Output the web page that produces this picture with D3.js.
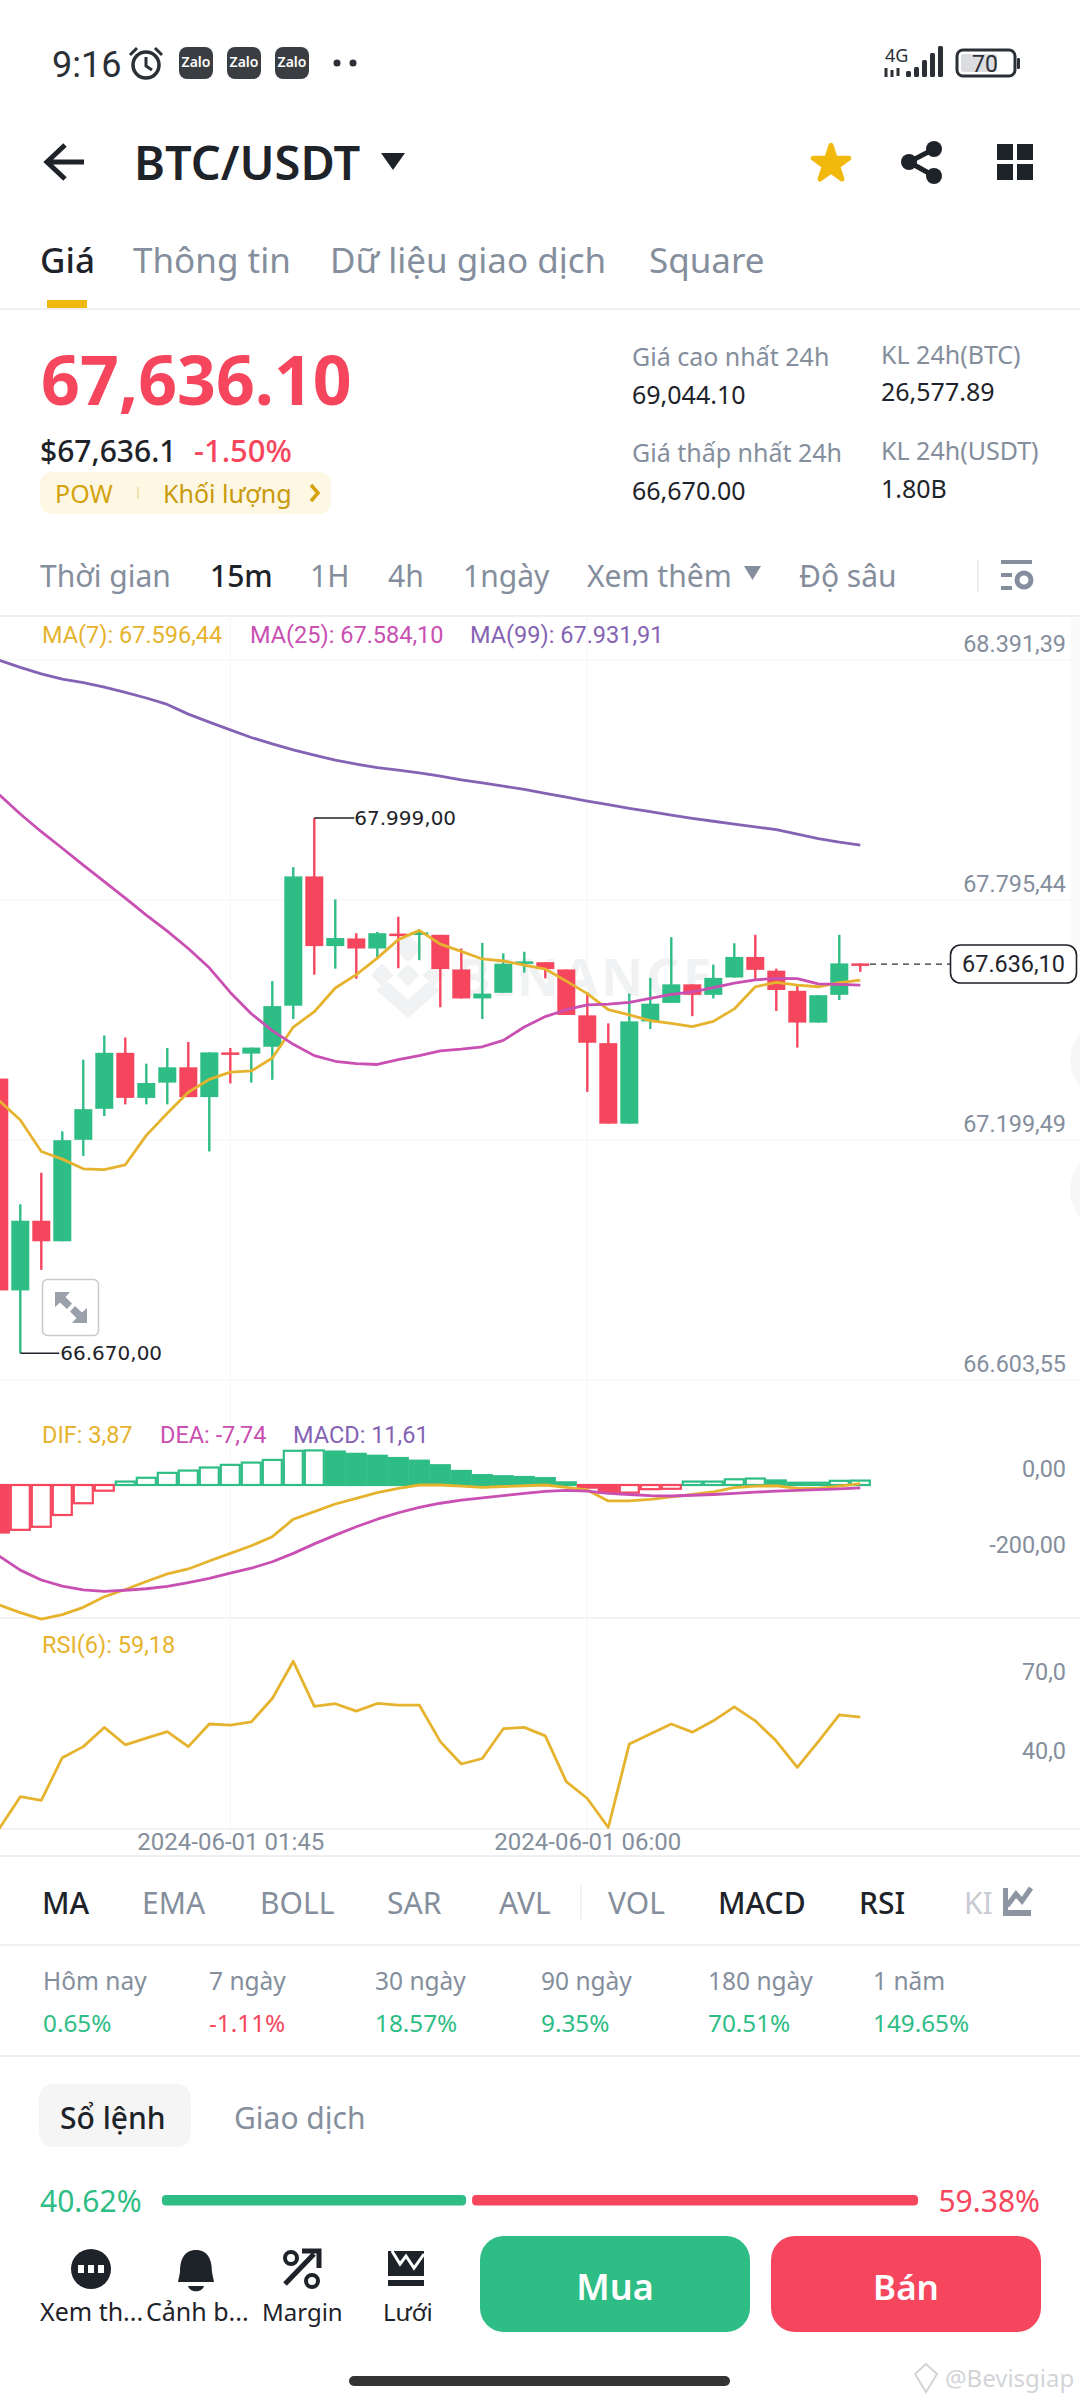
<!DOCTYPE html>
<html>
<head>
  <script src="https://d3js.org/d3.v7.min.js"></script>
  <meta charset="utf-8">
  <title>BTC/USDT</title>
<style>
html, body {
  margin: 0;
  background: #fff;
}
svg {
  display: block;
  background: #fff;
}
</style>
</head>
<body>
<script>
// candles, oldest first
var opens = [67352, 66826, 66999, 66948, 67200, 67277, 67416, 67304, 67342, 67380, 67306, 67417, 67414, 67431, 67533, 67854, 67681, 67700, 67675, 67712, 67709, 67709, 67623, 67551, 67565, 67637, 67641, 67623, 67509, 67440, 67240, 67494, 67540, 67586, 67560, 67603, 67654, 67620, 67570, 67491, 67560, 67638];
var closes = [66826, 66999, 66948, 67199, 67276, 67416, 67304, 67341, 67380, 67306, 67417, 67412, 67429, 67532, 67854, 67681, 67701, 67675, 67713, 67707, 67715, 67624, 67551, 67563, 67637, 67643, 67624, 67510, 67441, 67240, 67494, 67538, 67586, 67560, 67602, 67654, 67622, 67572, 67491, 67559, 67638, 67636.1];
var highs = [67352, 67040, 67118, 67221, 67399, 67459, 67454, 67389, 67428, 67443, 67417, 67428, 67429, 67594, 67877, 67999, 67797, 67713, 67716, 67754, 67720, 67709, 67675, 67689, 67663, 67667, 67641, 67623, 67566, 67489, 67563, 67602, 67703, 67586, 67635, 67688, 67709, 67625, 67584, 67559, 67709, 67638];
var lows = [66826, 66670, 66877, 66948, 67160, 67259, 67288, 67288, 67288, 67306, 67171, 67340, 67342, 67349, 67500, 67610, 67625, 67600, 67649, 67626, 67646, 67529, 67551, 67500, 67565, 67615, 67601, 67510, 67319, 67240, 67240, 67475, 67540, 67507, 67551, 67603, 67597, 67520, 67429, 67491, 67547, 67617];

var ma7 = [67297, 67249, 67171, 67152, 67128, 67126, 67138, 67211, 67266, 67318, 67350, 67368, 67371, 67403, 67480, 67518, 67577, 67610, 67651, 67697, 67720, 67686, 67668, 67649, 67644, 67634, 67624, 67594, 67563, 67523, 67510, 67496, 67489, 67481, 67494, 67525, 67580, 67591, 67584, 67580, 67590, 67596.44];
var ma25 = [68057, 68009, 67965, 67924, 67882, 67841, 67800, 67758, 67718, 67675, 67627, 67566, 67513, 67471, 67437, 67409, 67395, 67389, 67387, 67399, 67409, 67421, 67425, 67431, 67447, 67480, 67506, 67523, 67535, 67537, 67541, 67551, 67561, 67567, 67578, 67589, 67597, 67601, 67600, 67587, 67586, 67584.1];
var ma99 = [68391, 68373, 68357, 68344, 68335, 68324, 68311, 68297, 68281, 68257, 68237, 68218, 68199, 68183, 68168, 68155, 68143, 68133, 68124, 68118, 68111, 68103, 68094, 68086, 68078, 68070, 68060, 68051, 68041, 68032, 68023, 68015, 68006, 67998, 67991, 67984, 67977, 67970, 67959, 67948, 67939, 67931.91];

var hist = [-125, -118, -110, -79, -48, -15, 9, 19, 32, 38, 46, 53, 59, 66, 90, 91, 88, 82, 77, 71, 64, 52, 37, 26, 23, 21, 18, 7, -7, -20, -20, -11, -10, 9, 9, 15, 17, 12, 6, 6, 11, 11.61];
var dif = [-316, -336, -353, -341, -322, -294, -275, -254, -234, -221, -200, -180, -160, -136, -90, -70, -50, -35, -20, -9, 0, 0, -3, -6, -4, -2, 0, -6, -13, -42, -42, -38, -31, -25, -18, -7, -3, -2, -9, -9, -3, 3.87];
var dea = [-187, -224, -250, -266, -276, -280, -277, -273, -267, -257, -246, -232, -219, -202, -180, -155, -132, -110, -90, -73, -59, -48, -40, -34, -28, -22, -17, -14, -16, -22, -25, -28, -29, -27, -25, -22, -19, -16, -14, -12, -10, -7.74];
var rsi = [16.9, 29.0, 27.6, 43.8, 48.0, 55.3, 48.7, 51.2, 53.7, 48.0, 56.6, 56.2, 57.4, 66.3, 80.4, 63.3, 64.3, 61.5, 64.4, 63.8, 63.8, 49.9, 41.4, 43.5, 54.8, 55.3, 52.1, 34.7, 28.3, 17.3, 49.0, 52.8, 56.6, 53.5, 57.8, 63.1, 57.8, 50.1, 40.1, 49.9, 60.1, 59.18];

var priceTicks = [68391.39, 67795.44, 67199.49, 66603.55];
var priceTickLabels = ['68.391,39', '67.795,44', '67.199,49', '66.603,55'];
var macdTicks = [0, -200];
var macdTickLabels = ['0,00', '-200,00'];
var rsiTicks = [70, 40];
var rsiTickLabels = ['70,0', '40,0'];
var timeTicks = [11, 28];
var timeTickLabels = ['2024-06-01 01:45', '2024-06-01 06:00'];

var periodLabels = ['Hôm nay', '7 ngày', '30 ngày', '90 ngày', '180 ngày', '1 năm'];
var periodValues = [0.65, -1.11, 18.57, 9.35, 70.51, 149.65];
var buyShare = 40.62;
var sellShare = 59.38;

var green = '#2ebd85', red = '#f6465d', dark = '#1e2329', grey = '#848e9c', line = '#eeeff1';
var yellow = '#e6b32e', pink = '#c94fb2', purple = '#8563b4';
var uiFont = '"Noto Sans", sans-serif';
var chartFont = 'Roboto, sans-serif';

var width = 1080, height = 2400;
var svg = d3.select('body').append('svg')
  .attr('width', width)
  .attr('height', height);

function label(x, y, str, size, fill, opts) {
  opts = opts || {};
  return svg.append('text')
    .attr('x', x).attr('y', y)
    .attr('font-family', opts.font || uiFont)
    .attr('font-size', size)
    .attr('font-weight', opts.weight || 400)
    .attr('text-anchor', opts.anchor || 'start')
    .attr('fill', fill)
    .text(str);
}

function hr(y, c) {
  svg.append('line').attr('x1', 0).attr('x2', width).attr('y1', y).attr('y2', y)
    .attr('stroke', c || line).attr('stroke-width', 2);
}

// ---- status bar
label(52, 77, '9:16', 36, '#2b2f36', {font: chartFont});
svg.append('circle').attr('cx', 146).attr('cy', 65).attr('r', 13)
  .attr('fill', 'none').attr('stroke', '#2b2f36').attr('stroke-width', 3.5);
svg.append('path').attr('d', 'M146 57v9l6 4M130 55l7-7M162 55l-7-7')
  .attr('fill', 'none').attr('stroke', '#2b2f36').attr('stroke-width', 3);
[196, 244, 292].forEach(function (x) {
  svg.append('rect').attr('x', x - 17).attr('y', 47).attr('width', 34).attr('height', 32)
    .attr('rx', 8).attr('fill', '#3a3d42');
  label(x, 67, 'Zalo', 14, '#fff', {anchor: 'middle', weight: 600});
});
[337, 353].forEach(function (x) {
  svg.append('circle').attr('cx', x).attr('cy', 63).attr('r', 3.5).attr('fill', '#2b2f36');
});
label(885, 62, '4G', 18, '#2b2f36');
svg.selectAll('.sig').data([6, 10, 17, 24, 31]).enter().append('rect')
  .attr('class', 'sig')
  .attr('x', function (d, i) { return 906 + i * 8; })
  .attr('y', function (d) { return 77 - d; })
  .attr('width', 5).attr('height', function (d) { return d; })
  .attr('rx', 1.5).attr('fill', '#2b2f36');
svg.append('path').attr('d', 'M886 77v-9M892 70v7M898 68v8').attr('stroke', '#2b2f36').attr('stroke-width', 3);
svg.append('rect').attr('x', 957).attr('y', 50).attr('width', 58).attr('height', 26).attr('rx', 6)
  .attr('fill', 'none').attr('stroke', '#2b2f36').attr('stroke-width', 3);
svg.append('rect').attr('x', 961).attr('y', 54).attr('width', 36).attr('height', 18).attr('rx', 3).attr('fill', '#dcdde0');
svg.append('rect').attr('x', 1017).attr('y', 58).attr('width', 3).attr('height', 11).attr('rx', 1).attr('fill', '#2b2f36');
label(985, 72, '70', 23, '#2b2f36', {anchor: 'middle', font: chartFont});

// ---- header
svg.append('path').attr('d', 'M84 162H48M65 145L47 162L65 179')
  .attr('fill', 'none').attr('stroke', dark).attr('stroke-width', 5);
label(134, 180, 'BTC/USDT', 47, dark, {weight: 600});
svg.append('path').attr('d', 'M381 153H405L393 170Z').attr('fill', dark);
svg.append('path')
  .attr('transform', 'translate(831,164)')
  .attr('d', d3.symbol(d3.symbolStar).size(390)())
  .attr('fill', '#f0b90b').attr('stroke', '#f0b90b').attr('stroke-width', 5).attr('stroke-linejoin', 'round');
svg.append('path').attr('d', 'M934 149L909 162L934 176').attr('fill', 'none').attr('stroke', dark).attr('stroke-width', 5);
[[934, 149], [909, 162], [934, 176]].forEach(function (p) {
  svg.append('circle').attr('cx', p[0]).attr('cy', p[1]).attr('r', 8).attr('fill', dark);
});
[[997, 144], [1017, 144], [997, 164], [1017, 164]].forEach(function (p) {
  svg.append('rect').attr('x', p[0]).attr('y', p[1]).attr('width', 16).attr('height', 16).attr('fill', dark);
});

// ---- page tabs
var tabLabels = ['Giá', 'Thông tin', 'Dữ liệu giao dịch', 'Square'];
var tabX = [40, 133, 330, 649];
tabLabels.forEach(function (t, i) {
  label(tabX[i], 273, t, 35, i === 0 ? dark : grey, {weight: i === 0 ? 500 : 400});
});
svg.append('rect').attr('x', 47).attr('y', 300).attr('width', 40).attr('height', 8).attr('fill', '#f0b90b');
hr(309);

// ---- price block
label(41, 405, '67,636.10', 68, red, {weight: 700});
label(40, 462, '$67,636.1', 30, dark, {weight: 500});
label(194, 462, '-1.50%', 31, red, {weight: 500});
svg.append('rect').attr('x', 40).attr('y', 472).attr('width', 291).attr('height', 42).attr('rx', 12).attr('fill', '#fdf7e3');
label(55, 503, 'POW', 25, '#d3a20c');
svg.append('rect').attr('x', 137).attr('y', 487).attr('width', 2).attr('height', 12).attr('fill', '#f2e2ae');
label(163, 503, 'Khối lượng', 25, '#c99a0c');
svg.append('path').attr('d', 'M311 485L318 493L311 501').attr('fill', 'none').attr('stroke', '#d3a20c').attr('stroke-width', 3.5);

label(632, 366, 'Giá cao nhất 24h', 25, grey);
label(632, 404, '69,044.10', 25, dark);
label(632, 462, 'Giá thấp nhất 24h', 25, grey);
label(632, 500, '66,670.00', 25, dark);
label(881, 364, 'KL 24h(BTC)', 25, grey);
label(881, 401, '26,577.89', 25, dark);
label(881, 460, 'KL 24h(USDT)', 25, grey);
label(881, 498, '1.80B', 25, dark);

// ---- interval row
var intervalLabels = ['Thời gian', '15m', '1H', '4h', '1ngày', 'Xem thêm', 'Độ sâu'];
var intervalX = [40, 210, 310, 388, 463, 587, 799];
intervalLabels.forEach(function (t, i) {
  label(intervalX[i], 587, t, 30, i === 1 ? dark : grey, {weight: i === 1 ? 500 : 400});
});
svg.append('path').attr('d', 'M744 566H761L752.5 580Z').attr('fill', grey);
svg.append('rect').attr('x', 977).attr('y', 560).attr('width', 2).attr('height', 32).attr('fill', line);
svg.append('path').attr('d', 'M1001 562H1032M1001 575H1012M1001 588H1012').attr('stroke', grey).attr('stroke-width', 4);
svg.append('circle').attr('cx', 1024).attr('cy', 580).attr('r', 7).attr('fill', 'none').attr('stroke', grey).attr('stroke-width', 5);
hr(616);

// ---- scales
var x = d3.scaleLinear().domain([0, opens.length - 1]).range([-0.7, 860.3]);
var yPrice = d3.scaleLinear().domain([66603.55, 68391.39]).range([1380, 660]);
var yMacd = d3.scaleLinear().domain([-200, 0]).range([1561, 1485]);
var yRsi = d3.scaleLinear().domain([40, 70]).range([1767.7, 1688.7]);

// grid
svg.selectAll('.hgrid').data(priceTicks).enter().append('line')
  .attr('class', 'hgrid')
  .attr('x1', 0).attr('x2', width)
  .attr('y1', yPrice).attr('y2', yPrice)
  .attr('stroke', '#f7f7f8').attr('stroke-width', 1.5);
svg.selectAll('.vgrid').data(timeTicks).enter().append('line')
  .attr('class', 'vgrid')
  .attr('x1', x).attr('x2', x)
  .attr('y1', 616).attr('y2', 1856)
  .attr('stroke', '#f8f8f9').attr('stroke-width', 1.5);
hr(1618, '#f3f3f4');
hr(1829, '#f3f3f4');
hr(1856);

// edge bubbles of the app, faint
svg.append('rect').attr('x', 1071).attr('y', 618).attr('width', 9).attr('height', 330).attr('fill', '#fafafa');
svg.append('circle').attr('cx', 1112).attr('cy', 1060).attr('r', 42).attr('fill', '#f7f7f8');
svg.append('circle').attr('cx', 1112).attr('cy', 1190).attr('r', 42).attr('fill', '#f7f7f8');

// watermark
var wm = svg.append('g').attr('fill', '#f1f2f3');
[[408, 948, 10], [382, 975, 8], [408, 975, 8], [434, 975, 8]].forEach(function (p) {
  wm.append('rect').attr('x', p[0] - p[2]).attr('y', p[1] - p[2]).attr('width', p[2] * 2).attr('height', p[2] * 2)
    .attr('transform', 'rotate(45 ' + p[0] + ' ' + p[1] + ')');
});
wm.append('path').attr('d', 'M376 990L408 1018L440 990L428 982L408 1000L388 982Z');
wm.append('text').attr('x', 456).attr('y', 996).attr('font-family', uiFont).attr('font-weight', 700)
  .attr('font-size', 52).attr('letter-spacing', 3).text('BINANCE');

// ---- candles
var idx = d3.range(opens.length);
var col = function (i) { return closes[i] >= opens[i] ? green : red; };

svg.selectAll('.wick').data(idx).enter().append('line')
  .attr('class', 'wick')
  .attr('x1', x).attr('x2', x)
  .attr('y1', function (i) { return yPrice(highs[i]); })
  .attr('y2', function (i) { return yPrice(lows[i]); })
  .attr('stroke', col).attr('stroke-width', 2.4);

svg.selectAll('.body').data(idx).enter().append('rect')
  .attr('class', 'body')
  .attr('x', function (i) { return x(i) - 9; })
  .attr('width', 18)
  .attr('y', function (i) { return yPrice(Math.max(opens[i], closes[i])); })
  .attr('height', function (i) {
    return Math.max(2.5, Math.abs(yPrice(opens[i]) - yPrice(closes[i])));
  })
  .attr('fill', col);

var lineOf = function (ys) {
  return d3.line().x(function (d, i) { return x(i); }).y(ys);
};
[[ma7, yellow], [ma25, pink], [ma99, purple]].forEach(function (s) {
  svg.append('path').datum(s[0])
    .attr('d', lineOf(yPrice))
    .attr('fill', 'none').attr('stroke', s[1]).attr('stroke-width', 2.8).attr('stroke-linejoin', 'round');
});

// high / low markers
var iHigh = d3.maxIndex(highs), iLow = d3.minIndex(lows);
svg.append('path')
  .attr('d', d3.line()([[x(iHigh), yPrice(highs[iHigh])], [x(iHigh) + 40, yPrice(highs[iHigh])]]))
  .attr('stroke', dark).attr('stroke-width', 1.5);
label(x(iHigh) + 40, yPrice(highs[iHigh]) + 7, '67.999,00', 20, dark, {font: '"DejaVu Sans"'});
svg.append('path')
  .attr('d', d3.line()([[x(iLow), yPrice(lows[iLow])], [x(iLow) + 39, yPrice(lows[iLow])]]))
  .attr('stroke', dark).attr('stroke-width', 1.5);
label(x(iLow) + 40, yPrice(lows[iLow]) + 7, '66.670,00', 20, dark, {font: '"DejaVu Sans"'});

// expand button
svg.append('rect').attr('x', 42.5).attr('y', 1279.5).attr('width', 56).attr('height', 56).attr('rx', 5)
  .attr('fill', '#fff').attr('fill-opacity', 0.9).attr('stroke', '#c6c9ce').attr('stroke-width', 1.5);
svg.append('path').attr('d', 'M55 1292H70L65.5 1297L72 1303.5L67 1309L60 1302.5L55 1307Z').attr('fill', '#9aa1ab');
svg.append('path').attr('d', 'M87 1323H72L76.5 1318L70 1311.5L75 1306L82 1312.5L87 1308Z').attr('fill', '#9aa1ab');

// price axis
function styleAxis(g, fill) {
  g.select('.domain').remove();
  g.selectAll('.tick line').remove();
  g.selectAll('text').attr('fill', fill).attr('font-family', chartFont).attr('font-size', 23.4);
}
function valueAxis(scale, ticks, labels) {
  return d3.axisLeft(scale).tickValues(ticks).tickSize(0).tickPadding(0)
    .tickFormat(function (d, i) { return labels[i]; });
}
[[yPrice, priceTicks, priceTickLabels], [yMacd, macdTicks, macdTickLabels], [yRsi, rsiTicks, rsiTickLabels]].forEach(function (a) {
  svg.append('g').attr('transform', 'translate(1066,0)')
    .call(valueAxis(a[0], a[1], a[2]))
    .call(styleAxis, grey)
    .selectAll('text').attr('dy', -9);
});

// last price tag
var yLast = yPrice(closes[closes.length - 1]);
svg.append('line').attr('x1', 870).attr('x2', 950).attr('y1', yLast).attr('y2', yLast)
  .attr('stroke', '#2b2f36').attr('stroke-width', 1.3).attr('stroke-dasharray', '6 5');
svg.append('rect').attr('x', 950.5).attr('y', 945).attr('width', 126).attr('height', 38).attr('rx', 10)
  .attr('fill', '#fff').attr('stroke', dark).attr('stroke-width', 1.6);
label(1013.5, 972, '67.636,10', 23.4, dark, {anchor: 'middle', font: chartFont});

// legends
label(42, 643, 'MA(7): 67.596,44', 23.5, yellow, {font: chartFont});
label(250, 643, 'MA(25): 67.584,10', 23.5, pink, {font: chartFont});
label(470, 643, 'MA(99): 67.931,91', 23.5, purple, {font: chartFont});
label(42, 1443, 'DIF: 3,87', 23.5, yellow, {font: chartFont});
label(160, 1443, 'DEA: -7,74', 23.5, pink, {font: chartFont});
label(293, 1443, 'MACD: 11,61', 23.5, purple, {font: chartFont});
label(42, 1653, 'RSI(6): 59,18', 23.5, yellow, {font: chartFont});

// ---- MACD histogram: rising bars are hollow, falling bars solid
var rising = function (i) { return i > 0 && hist[i] >= hist[i - 1]; };
svg.selectAll('.hist').data(idx).enter().append('rect')
  .attr('class', 'hist')
  .attr('x', function (i) { return x(i) - 9.5; })
  .attr('width', 19)
  .attr('y', function (i) { return Math.min(yMacd(0), yMacd(hist[i])); })
  .attr('height', function (i) { return Math.abs(yMacd(hist[i]) - yMacd(0)); })
  .attr('fill', function (i) { return rising(i) ? '#fff' : (hist[i] >= 0 ? green : red); })
  .attr('stroke', function (i) { return hist[i] >= 0 ? green : red; })
  .attr('stroke-width', 2.2);

[[dif, yellow], [dea, pink]].forEach(function (s) {
  svg.append('path').datum(s[0])
    .attr('d', lineOf(yMacd))
    .attr('fill', 'none').attr('stroke', s[1]).attr('stroke-width', 2.8).attr('stroke-linejoin', 'round');
});

// ---- RSI
svg.append('path').datum(rsi)
  .attr('d', lineOf(yRsi))
  .attr('fill', 'none').attr('stroke', yellow).attr('stroke-width', 2.8).attr('stroke-linejoin', 'round');

// time axis
svg.append('g').attr('transform', 'translate(0,1829)')
  .call(d3.axisBottom(x).tickValues(timeTicks).tickSize(0).tickPadding(0)
    .tickFormat(function (d, i) { return timeTickLabels[i]; }))
  .call(styleAxis, grey)
  .selectAll('text').attr('y', 0).attr('dy', 21).attr('font-size', 24);

// ---- indicator tabs
var indicatorLabels = ['MA', 'EMA', 'BOLL', 'SAR', 'AVL', 'VOL', 'MACD', 'RSI', 'KI'];
var indicatorX = [42, 142, 260, 387, 499, 608, 718, 859, 964];
var indicatorOn = ['MA', 'MACD', 'RSI'];
indicatorLabels.forEach(function (t, i) {
  var on = indicatorOn.indexOf(t) >= 0;
  label(indicatorX[i], 1914, t, 30, t === 'KI' ? '#c8ccd2' : (on ? dark : grey), {weight: on ? 500 : 400});
});
svg.append('rect').attr('x', 580).attr('y', 1885).attr('width', 1.5).attr('height', 34).attr('fill', line);
svg.append('path').attr('d', 'M1003 1888H1008V1910H1031V1916H1003Z').attr('fill', '#8d95a1');
svg.append('path').attr('d', 'M1007 1906L1016 1894L1022 1901L1031 1888').attr('fill', 'none').attr('stroke', '#8d95a1').attr('stroke-width', 5);
hr(1945);

// ---- period performance
var periodX = [43, 209, 375, 541, 708, 873];
periodLabels.forEach(function (t, i) {
  label(periodX[i], 1990, t, 24.5, grey);
  var v = periodValues[i];
  label(periodX[i], 2032, v.toFixed(2) + '%', 24.3, v >= 0 ? green : red);
});
hr(2056);

// ---- order book tabs
svg.append('rect').attr('x', 39).attr('y', 2084).attr('width', 152).attr('height', 63).attr('rx', 14).attr('fill', '#f5f5f5');
label(60, 2129, 'Sổ lệnh', 30, dark, {weight: 500});
label(234, 2129, 'Giao dịch', 30, grey);

// ---- buy / sell ratio
var share = d3.scaleLinear().domain([0, buyShare + sellShare]).range([162, 918]);
label(40, 2212, buyShare.toFixed(2) + '%', 30, green);
label(1040, 2212, sellShare.toFixed(2) + '%', 30, red, {anchor: 'end'});
svg.append('rect').attr('x', share(0)).attr('y', 2195).attr('width', share(buyShare) - share(0) - 3).attr('height', 10.5).attr('rx', 4).attr('fill', green);
svg.append('rect').attr('x', share(buyShare) + 3).attr('y', 2195).attr('width', share(100) - share(buyShare) - 3).attr('height', 10.5).attr('rx', 4).attr('fill', red);

// ---- bottom bar
var bar = svg.append('g').attr('transform', 'translate(0,-4)');
bar.append('circle').attr('cx', 91).attr('cy', 2273).attr('r', 20).attr('fill', dark);
[81, 91, 101].forEach(function (cx) {
  bar.append('rect').attr('x', cx - 3).attr('y', 2269).attr('width', 6).attr('height', 8).attr('fill', '#fff');
});
bar.append('path').attr('d', 'M196 2254C208 2254 212 2264 212 2276L214 2286H178L180 2276C180 2264 184 2254 196 2254Z').attr('fill', dark);
bar.append('path').attr('d', 'M188 2290H204C202 2297 190 2297 188 2290Z').attr('fill', dark);
bar.append('path').attr('d', 'M285 2288L314 2258M302 2255H319V2272').attr('fill', 'none').attr('stroke', dark).attr('stroke-width', 5);
bar.append('circle').attr('cx', 291).attr('cy', 2262).attr('r', 6).attr('fill', 'none').attr('stroke', dark).attr('stroke-width', 4);
bar.append('circle').attr('cx', 312).attr('cy', 2285).attr('r', 6).attr('fill', 'none').attr('stroke', dark).attr('stroke-width', 4);
bar.append('path').attr('d', 'M388 2255H424V2280H388Z').attr('fill', dark);
bar.append('path').attr('d', 'M392 2255L400 2268L406 2260L414 2272L424 2258').attr('fill', 'none').attr('stroke', '#fff').attr('stroke-width', 3);
bar.append('rect').attr('x', 388).attr('y', 2284).attr('width', 36).attr('height', 6).attr('fill', dark);

var barLabels = ['Xem th...', 'Cảnh b...', 'Margin', 'Lưới'];
var barX = [40, 146, 262, 383];
var barSize = [25, 25, 24, 24];
barLabels.forEach(function (t, i) { label(barX[i], 2321, t, barSize[i], dark); });

svg.append('rect').attr('x', 480).attr('y', 2236).attr('width', 270).attr('height', 96).attr('rx', 24).attr('fill', green);
svg.append('rect').attr('x', 771).attr('y', 2236).attr('width', 270).attr('height', 96).attr('rx', 24).attr('fill', red);
label(615, 2300, 'Mua', 36, '#fff', {anchor: 'middle', weight: 600});
label(906, 2300, 'Bán', 35, '#fff', {anchor: 'middle', weight: 600});

svg.append('rect').attr('x', 349).attr('y', 2376).attr('width', 381).attr('height', 10).attr('rx', 5).attr('fill', '#333');

// ---- watermark corner
svg.append('path').attr('d', 'M915 2374L926 2364L937 2374L926 2392Z').attr('fill', 'none').attr('stroke', '#d2d4d8').attr('stroke-width', 2);
label(945, 2387, '@Bevisgiap', 24, '#d2d4d8');
</script>
</body>
</html>
